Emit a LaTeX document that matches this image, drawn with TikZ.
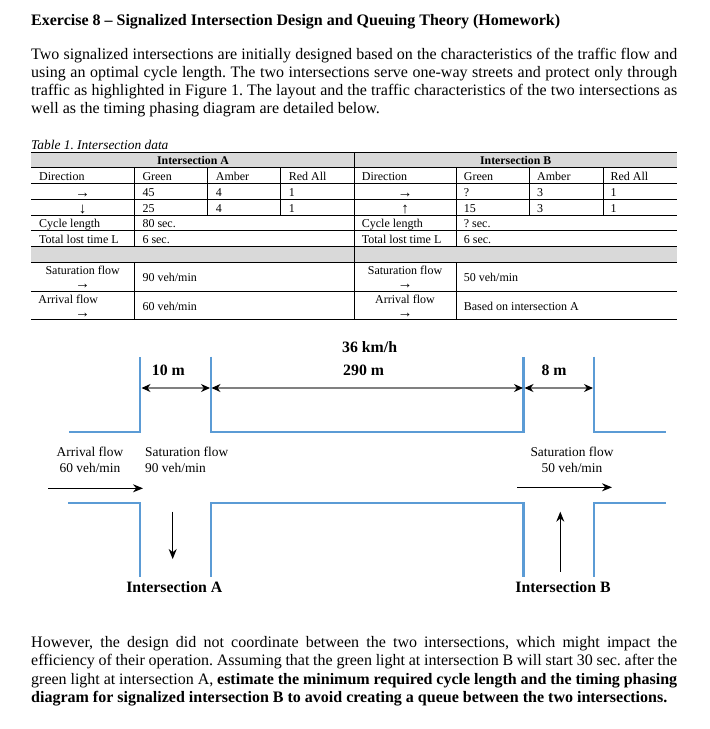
\documentclass[tikz,border=0pt]{standalone}
\usepackage{fontspec}
\setmainfont{Liberation Serif}
\usetikzlibrary{arrows.meta}
\frenchspacing
\tikzset{
  bodytxt/.style={anchor=base west,inner sep=0pt,font=\fontsize{16}{18}\selectfont},
  tabtxt/.style={anchor=base west,inner sep=0pt,yshift=-.7pt,font=\fontsize{12}{13}\selectfont},
  tabmid/.style={anchor=base,inner sep=0pt,yshift=-.7pt,font=\fontsize{12}{13}\selectfont},
  tabsym/.style={anchor=base,inner sep=0pt,yshift=-2pt,font=\fontsize{15}{16}\selectfont},
  tabhead/.style={anchor=base,inner sep=0pt,yshift=-.7pt,font=\fontsize{11.8}{13}\selectfont\bfseries},
  figtxt/.style={anchor=base,inner sep=0pt,yshift=-.7pt,font=\fontsize{13.4}{15}\selectfont},
  figbold/.style={anchor=base west,inner sep=0pt,yshift=-.5pt,font=\fontsize{15.8}{17}\selectfont\bfseries},
  tabline/.style={draw=black,line width=.8pt},
  curb/.style={draw=curbblue,line width=2.3pt},
  flow/.style={draw=black,line width=1pt,-{Stealth[length=10pt,width=8pt]}},
  dimen/.style={draw=gray,line width=1.3pt,{Stealth[length=9pt,width=8pt,color=black]}-{Stealth[length=9pt,width=8pt,color=black]}}
}
\begin{document}
\begin{tikzpicture}[x=1pt,y=-1pt]
 \definecolor{curbblue}{RGB}{91,155,213}
 \definecolor{bandgrey}{RGB}{217,217,217}
 \useasboundingbox (0,0) rectangle (710,729);
 % heading and text
 \node[bodytxt,font=\fontsize{16}{18}\selectfont\bfseries] (title) at (31,25) {Exercise 8 -- Signalized Intersection Design and Queuing Theory (Homework)};
 \foreach \yp/\nm/\txt in {
   59/intro1/{Two signalized intersections are initially designed based on the characteristics of the traffic flow and},
   77/intro2/{using an optimal cycle length. The two intersections serve one-way streets and protect only through},
   95/intro3/{traffic as highlighted in Figure 1. The layout and the traffic characteristics of the two intersections as},
   647/outro1/{However, the design did not coordinate between the two intersections, which might impact the},
   665/outro2/{efficiency of their operation. Assuming that the green light at intersection B will start 30 sec. after the},
   684/outro3/{green light at intersection A, \textbf{estimate the minimum required cycle length and the timing phasing}}%
 } {
   \node[bodytxt] (\nm) at (31,\yp) {\makebox[646pt][s]{\txt}};
 }
 \node[bodytxt] (intro4) at (31,113) {well as the timing phasing diagram are detailed below.};
 \node[bodytxt,font=\fontsize{16}{18}\selectfont\bfseries] (outro4) at (31,702) {diagram for signalized intersection B to avoid creating a queue between the two intersections.};
 \node[tabtxt,yshift=.7pt,font=\fontsize{13.4}{15}\selectfont\itshape] (caption) at (31,149) {Table 1. Intersection data};
 % table
 \fill[bandgrey] (31,152) rectangle (677,167.3);
 \fill[bandgrey] (31,246.3) rectangle (677,262.3);
 \foreach \yp in {152,167.3,183.3,199.3,215.3,230.3,246.3,262.3,291.3,319.3} {
   \draw[tabline] (31,\yp) -- (677,\yp);
 }
 \draw[tabline] (354.5,152) -- (354.5,319.3);
 \foreach \xp in {134.3,456.3} {
   \draw[tabline] (\xp,167.3) -- (\xp,246.3);
   \draw[tabline] (\xp,262.3) -- (\xp,319.3);
 }
 \foreach \xp in {207.3,280.7,529.3,603.3} {
   \draw[tabline] (\xp,167.3) -- (\xp,215.3);
 }
 \node[tabhead] (headA) at (193,163.5) {Intersection A};
 \node[tabhead] (headB) at (515.7,163.5) {Intersection B};
 \foreach \nm/\xp/\yp/\txt in {
   dirA/39/179.5/Direction, grnA/142.3/179.5/Green, ambA/215.7/179.5/Amber, redA/288.7/179.5/Red All,
   g1A/142.3/195.5/45, a1A/215.7/195.5/4, r1A/288.7/195.5/1,
   g2A/142.3/211.5/25, a2A/215.7/211.5/4, r2A/288.7/211.5/1,
   cycA/39/226.7/Cycle length, cvalA/142.3/226.7/80 sec.,
   lostA/39/242.7/Total lost time L, lvalA/142.3/242.7/6 sec.,
   satA/142.3/280.7/{90 veh/min}, arrA/142.3/309.3/{60 veh/min},
   dirB/361.7/179.5/Direction, grnB/463.7/179.5/Green, ambB/537/179.5/Amber, redB/610.3/179.5/Red All,
   g1B/463.7/195.5/?, a1B/537/195.5/3, r1B/610.3/195.5/1,
   g2B/463.7/211.5/15, a2B/537/211.5/3, r2B/610.3/211.5/1,
   cycB/361.7/226.7/Cycle length, cvalB/463.7/226.7/? sec.,
   lostB/361.7/242.7/Total lost time L, lvalB/463.7/242.7/6 sec.,
   satB/463.7/280.7/{50 veh/min}, arrB/463.7/309.3/Based on intersection A
 } {
   \node[tabtxt] (\nm) at (\xp,\yp) {\txt};
 }
 \foreach \nm/\xp/\yp/\txt in {
   slabA/82.7/273.3/Saturation flow, alabA/68.3/302.3/Arrival flow,
   slabB/405/273.3/Saturation flow, alabB/405/302.3/Arrival flow
 } {
   \node[tabmid] (\nm) at (\xp,\yp) {\txt};
 }
 \foreach \nm/\xp/\yp/\txt in {
   sym1A/82.7/195.5/→, sym2A/82.7/211.5/↓, ssymA/82.7/286.7/→, asymA/82.7/315.3/→,
   sym1B/405/195.5/→, sym2B/405/211.5/↑, ssymB/405/286.7/→, asymB/405/315.3/→
 } {
   \node[tabsym] (\nm) at (\xp,\yp) {\txt};
 }
 % street plan
 \draw[curb] (69,431.7) -- (140.3,431.7) -- (140.3,356.7);
 \draw[curb] (210.7,356.7) -- (210.7,431.7) -- (523.5,431.7) -- (523.5,356.7);
 \draw[curb] (594.3,356.7) -- (594.3,431.7) -- (666,431.7);
 \draw[curb] (68,503) -- (140.3,503) -- (140.3,576.7);
 \draw[curb] (210.7,576.7) -- (210.7,503) -- (523.5,503) -- (523.5,576.7);
 \draw[curb] (594.3,576.7) -- (594.3,503) -- (666,503);
 \foreach \nm/\xp in {d1/141.5, d2/210, d3/211.5, d4/523, d5/524.5, d6/593} {
   \coordinate (\nm) at (\xp,388);
 }
 \draw[dimen] (d1) -- (d2);
 \draw[dimen] (d3) -- (d4);
 \draw[dimen] (d5) -- (d6);
 \coordinate (inA) at (48,488.3);
 \coordinate (outA) at (143,488.3);
 \coordinate (inB) at (517,487.3);
 \coordinate (outB) at (612,487.3);
 \coordinate (topA) at (172.7,511.7);
 \coordinate (endA) at (172.7,559);
 \coordinate (botB) at (560.3,571.7);
 \coordinate (endB) at (560.3,511.7);
 \draw[flow] (inA) -- (outA);
 \draw[flow] (inB) -- (outB);
 \draw[flow] (topA) -- (endA);
 \draw[flow] (botB) -- (endB);
 % labels of the plan
 \node[figbold] (speed) at (342,351.7) {36 km/h};
 \node[figbold] (dist) at (343,375) {290 m};
 \node[figbold] (wideA) at (151.7,375) {10 m};
 \node[figbold] (wideB) at (541.3,375) {8 m};
 \node[figbold,anchor=base] (nameA) at (174.3,591.7) {Intersection A};
 \node[figbold,anchor=base] (nameB) at (563,591.7) {Intersection B};
 \foreach \nm/\xp/\yp/\txt in {
   arr1/90/456/Arrival flow, arr2/90/471.7/{60 veh/min},
   sat1/572/456/Saturation flow, sat2/572/471.7/{50 veh/min}
 } {
   \node[figtxt] (\nm) at (\xp,\yp) {\txt};
 }
 \node[figtxt,anchor=base west] (sat3) at (145,456) {Saturation flow};
 \node[figtxt,anchor=base west] (sat4) at (145,471.7) {90 veh/min};
\end{tikzpicture}
\end{document}
